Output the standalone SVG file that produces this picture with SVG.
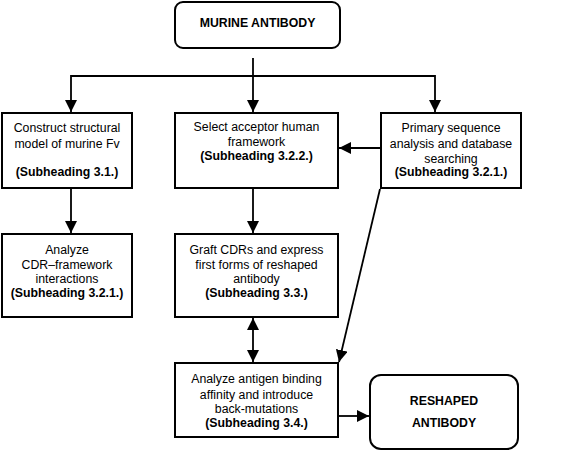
<svg xmlns="http://www.w3.org/2000/svg" width="561" height="451" viewBox="0 0 561 451">
<style>
.box{fill:#fff;stroke:#000;stroke-width:2}
.ln{fill:none;stroke:#000;stroke-width:1.8}
text{font-family:"Liberation Sans",Arial,sans-serif;font-size:12.3px;fill:#000;text-anchor:middle}
.b{font-weight:bold}
</style>
<defs>
<marker id="ah" viewBox="0 0 12 12" refX="12" refY="6" markerWidth="12" markerHeight="12" markerUnits="userSpaceOnUse" orient="auto-start-reverse">
<path d="M0,0 L12,6 L0,12 Z" fill="#000"/>
</marker>
</defs>
<rect width="561" height="451" fill="#fff"/>
<g id="connectors">
<line class="ln" x1="253" y1="58" x2="253" y2="112" marker-end="url(#ah)"/>
<polyline class="ln" points="71,112 71,76 435,76 435,112" marker-start="url(#ah)" marker-end="url(#ah)"/>
<line class="ln" x1="381" y1="148" x2="339" y2="148" marker-end="url(#ah)"/>
<line class="ln" x1="71" y1="189" x2="71" y2="233" marker-end="url(#ah)"/>
<line class="ln" x1="253" y1="189" x2="253" y2="233" marker-end="url(#ah)"/>
<line class="ln" x1="253" y1="318" x2="253" y2="362" marker-start="url(#ah)" marker-end="url(#ah)"/>
<line class="ln" x1="380" y1="189" x2="339" y2="362" marker-end="url(#ah)"/>
<line class="ln" x1="339" y1="416" x2="369" y2="416" marker-end="url(#ah)"/>
</g>
<g id="murine">
<rect class="box" x="175" y="2" width="165" height="46" rx="8"/>
<text class="b" x="257.5" y="27">MURINE ANTIBODY</text>
</g>
<g id="construct">
<rect class="box" x="2" y="113" width="130" height="75"/>
<text x="67" y="132">Construct structural</text>
<text x="67" y="148">model of murine Fv</text>
<text class="b" x="67" y="176">(Subheading 3.1.)</text>
</g>
<g id="select">
<rect class="box" x="175" y="113" width="163" height="75"/>
<text x="256.5" y="131">Select acceptor human</text>
<text x="256.5" y="146">framework</text>
<text class="b" x="256.5" y="160">(Subheading 3.2.2.)</text>
</g>
<g id="primary">
<rect class="box" x="381" y="113" width="140" height="75"/>
<text x="451" y="132">Primary sequence</text>
<text x="451" y="148">analysis and database</text>
<text x="451" y="163">searching</text>
<text class="b" x="451" y="176">(Subheading 3.2.1.)</text>
</g>
<g id="analyze-cdr">
<rect class="box" x="2" y="234" width="130" height="83"/>
<text x="67" y="254">Analyze</text>
<text x="67" y="269">CDR–framework</text>
<text x="67" y="283">interactions</text>
<text class="b" x="67" y="297">(Subheading 3.2.1.)</text>
</g>
<g id="graft">
<rect class="box" x="175" y="234" width="163" height="83"/>
<text x="256.5" y="254">Graft CDRs and express</text>
<text x="256.5" y="269">first forms of reshaped</text>
<text x="256.5" y="283">antibody</text>
<text class="b" x="256.5" y="297">(Subheading 3.3.)</text>
</g>
<g id="affinity">
<rect class="box" x="175" y="363" width="163" height="74"/>
<text x="256.5" y="383">Analyze antigen binding</text>
<text x="256.5" y="399">affinity and introduce</text>
<text x="256.5" y="413">back-mutations</text>
<text class="b" x="256.5" y="427">(Subheading 3.4.)</text>
</g>
<g id="reshaped">
<rect class="box" x="370" y="375" width="148" height="74" rx="11"/>
<text class="b" x="444" y="405">RESHAPED</text>
<text class="b" x="444" y="427">ANTIBODY</text>
</g>
</svg>
